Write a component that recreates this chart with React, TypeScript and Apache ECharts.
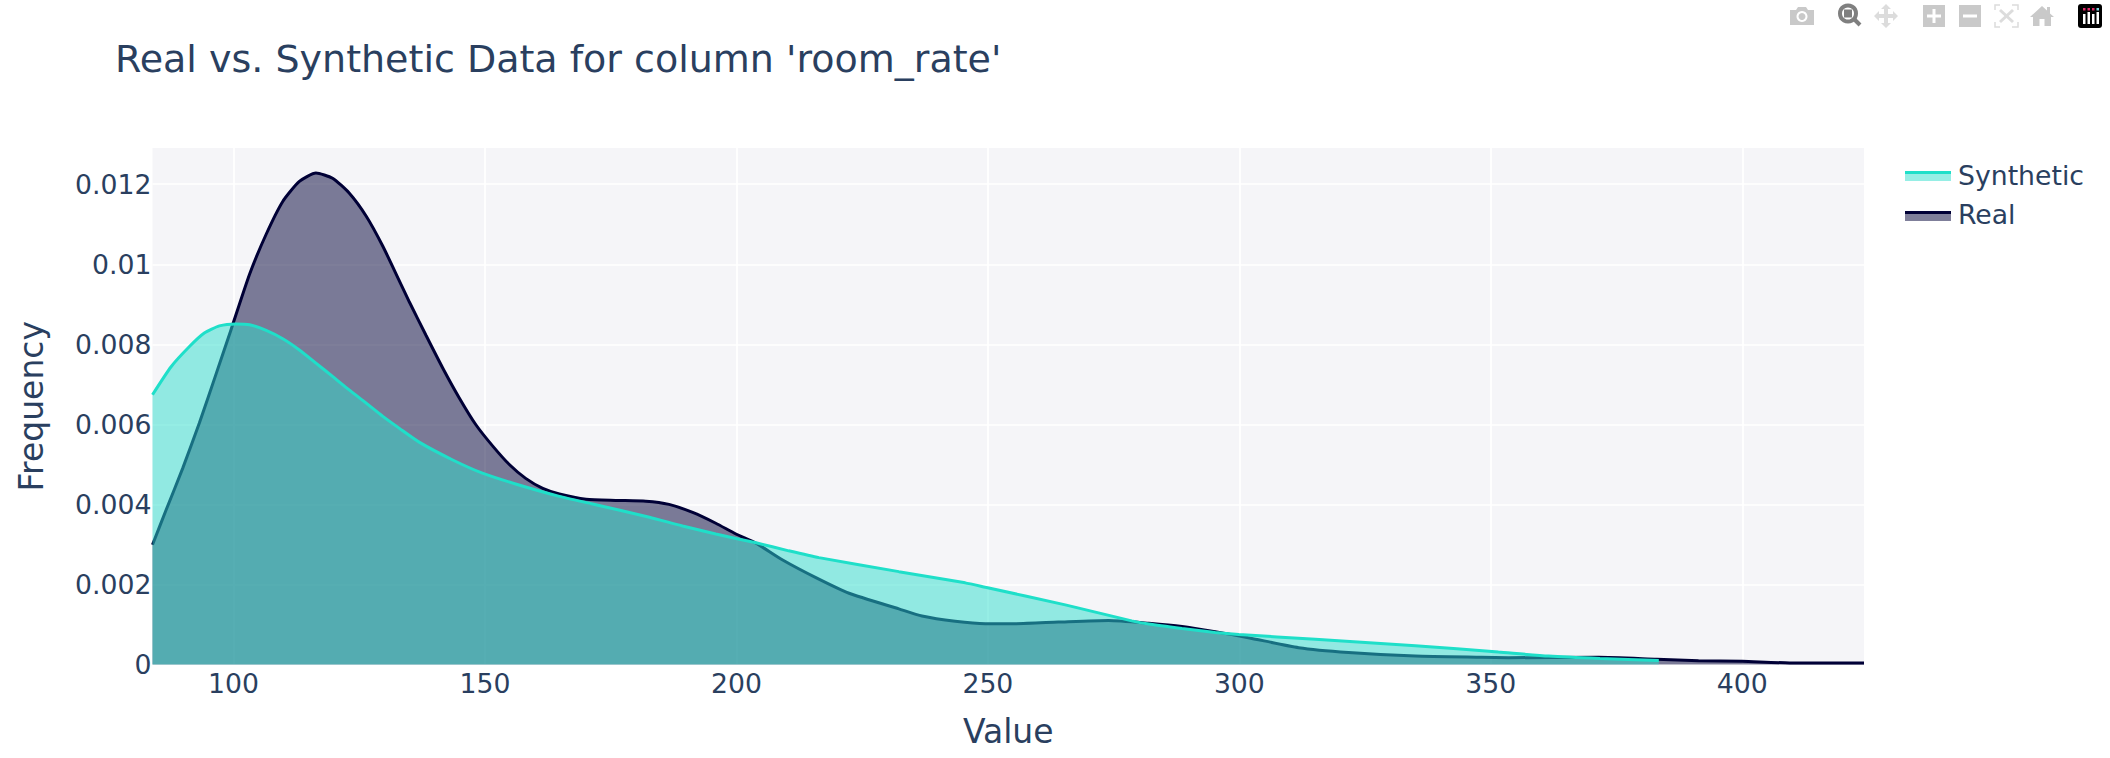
import { useEffect, useRef } from 'react'
import * as echarts from 'echarts'

const realValues = [83.9, 86.6, 89.9, 93.2, 96.6, 99.5, 103.2, 106.5, 109.8, 113.1, 116.4, 119.7, 123, 126.4, 129.7, 133, 135, 138.3, 141.6, 144.9, 148.2, 151.6, 154.9, 158.1, 161.5, 164.8, 170.1, 176, 182, 186.6, 191.3, 195.9, 199.9, 203.9, 209.2, 215.8, 222.4, 232.3, 236.9, 243.5, 249.5, 255.4, 264, 274, 282, 288.6, 295.2, 301.8, 311.8, 321.7, 335, 348.2, 353.5, 371.4, 383, 391.3, 400, 409.4, 424.2]
const realDensity = [0.00299, 0.00386, 0.0049, 0.00603, 0.00728, 0.00836, 0.00975, 0.01075, 0.01157, 0.01207, 0.01228, 0.01215, 0.01178, 0.0112, 0.01045, 0.00958, 0.00905, 0.00822, 0.00741, 0.00666, 0.00599, 0.00545, 0.00499, 0.00465, 0.0044, 0.00426, 0.00413, 0.0041, 0.00408, 0.004, 0.0038, 0.00353, 0.00326, 0.00303, 0.00261, 0.00217, 0.00178, 0.00139, 0.00121, 0.00108, 0.00102, 0.00102, 0.00106, 0.0011, 0.00103, 0.00095, 0.00082, 0.00067, 0.00042, 0.0003, 0.00021, 0.00018, 0.00017, 0.00018, 0.00013, 0.000095, 0.00008, 0.00004, 0.00004]

const synthValues = [83.9, 87.6, 91.3, 94.2, 97.2, 100.5, 103.2, 106.5, 109.8, 113.1, 116.4, 119.7, 123, 126.4, 129.7, 133, 137, 143.6, 149.5, 156.1, 164.8, 171.4, 182.7, 189.3, 195.9, 203.9, 210.4, 216.4, 232.3, 245.5, 249.5, 265.4, 278.6, 282, 288.6, 295.2, 299.9, 315.1, 335, 351.5, 361.5, 371.7, 383.4]
const synthDensity = [0.00674, 0.00744, 0.00795, 0.00828, 0.00846, 0.00851, 0.00849, 0.00835, 0.00814, 0.00786, 0.00753, 0.0072, 0.00686, 0.00653, 0.0062, 0.0059, 0.00555, 0.00511, 0.00478, 0.00451, 0.0042, 0.00401, 0.00368, 0.00346, 0.00326, 0.00304, 0.00284, 0.00267, 0.00232, 0.00204, 0.00193, 0.00149, 0.00109, 0.00101, 0.0009, 0.0008, 0.00075, 0.00063, 0.00047, 0.00031, 0.00021, 0.00015, 0.0001]

const xTicks = [100, 150, 200, 250, 300, 350, 400]
const yTicks = [0, 0.002, 0.004, 0.006, 0.008, 0.01, 0.012]

const TEXT = '#2a3f5f'
const FONT = '"DejaVu Sans", sans-serif'
const REAL = '#000036'
const REAL_FILL = 'rgba(0,0,54,0.5)'
const SYNTH = '#1fdfc9'
const SYNTH_FILL = 'rgba(45,221,204,0.5)'
const ICON = '#c9c9c9'
const ICON_LIGHT = '#dcdcdc'

// modebar icons, drawn in a 24px box
echarts.graphic.registerShape('cameraIcon', echarts.graphic.extendPath('M0 6H6L8 3H16L18 6H24V21H0Z', {}))
echarts.graphic.registerShape('panIcon', echarts.graphic.extendPath('M12 0L17 5H14V10H19V7L24 12L19 17V14H14V19H17L12 24L7 19H10V14H5V17L0 12L5 7V10H10V5H7Z', {}))
echarts.graphic.registerShape('homeIcon', echarts.graphic.extendPath('M12 2L17 6.5V3H20V9.5L24 13H21V22H14.5V15H9.5V22H3V13H0Z', {}))

const bracket = (points: number[][]) => ({
  type: 'polyline', shape: { points }, style: { fill: 'none', stroke: ICON_LIGHT, lineWidth: 1.5 },
})

const modebar = [
  { type: 'cameraIcon', x: 1790, y: 4, style: { fill: ICON } },
  { type: 'circle', shape: { cx: 1802, cy: 16.5, r: 5.5 }, style: { fill: '#fff' } },
  { type: 'circle', shape: { cx: 1802, cy: 16.5, r: 3.5 }, style: { fill: ICON } },
  { type: 'circle', shape: { cx: 1848, cy: 13.5, r: 8 }, style: { fill: 'none', stroke: '#7f7f7f', lineWidth: 4 } },
  { type: 'rect', shape: { x: 1844, y: 9.5, width: 8, height: 8 }, style: { fill: '#7f7f7f' } },
  { type: 'line', shape: { x1: 1854, y1: 19, x2: 1860, y2: 25 }, style: { stroke: '#7f7f7f', lineWidth: 4 } },
  { type: 'panIcon', x: 1874, y: 4, style: { fill: ICON_LIGHT } },
  { type: 'rect', shape: { x: 1923, y: 5, width: 22, height: 22 }, style: { fill: ICON } },
  { type: 'rect', shape: { x: 1927, y: 14.5, width: 14, height: 3 }, style: { fill: '#fff' } },
  { type: 'rect', shape: { x: 1932.5, y: 9, width: 3, height: 14 }, style: { fill: '#fff' } },
  { type: 'rect', shape: { x: 1959, y: 5, width: 22, height: 22 }, style: { fill: ICON } },
  { type: 'rect', shape: { x: 1963, y: 14.5, width: 14, height: 3 }, style: { fill: '#fff' } },
  bracket([[1995, 10], [1995, 5], [2000, 5]]),
  bracket([[2012, 5], [2018, 5], [2018, 10]]),
  bracket([[1995, 22], [1995, 27], [2000, 27]]),
  bracket([[2012, 27], [2018, 27], [2018, 22]]),
  { type: 'line', shape: { x1: 2000, y1: 10, x2: 2013, y2: 22 }, style: { stroke: ICON_LIGHT, lineWidth: 3 } },
  { type: 'line', shape: { x1: 2013, y1: 10, x2: 2000, y2: 22 }, style: { stroke: ICON_LIGHT, lineWidth: 3 } },
  { type: 'homeIcon', x: 2030, y: 4, style: { fill: ICON } },
  { type: 'rect', shape: { x: 2078, y: 4, width: 24, height: 24, r: 3 }, style: { fill: '#000' } },
  ...[2083, 2087.5, 2092, 2096.5].map((x, i) => ({
    type: 'rect', shape: { x, y: 8, width: 2.5, height: 2.5 }, style: { fill: i === 3 ? '#7fd6e0' : '#e0296b' },
  })),
  ...[[2083, 14], [2087.5, 12], [2092, 14], [2096.5, 12]].map(([x, y]) => ({
    type: 'rect', shape: { x, y, width: 2.5, height: 24 - y }, style: { fill: '#fff' },
  })),
]

export default function App() {
  const chartRef = useRef<HTMLDivElement>(null)

  useEffect(() => {
    if (!chartRef.current) return
    const chart = echarts.init(chartRef.current, undefined, { renderer: 'svg' })

    const option = {
      animation: false,
      backgroundColor: '#fff',
      title: {
        text: "Real vs. Synthetic Data for column 'room_rate'",
        left: 110,
        top: 35,
        textStyle: { color: TEXT, fontFamily: FONT, fontSize: 38, fontWeight: 'normal' },
      },
      legend: {
        data: ['Synthetic', 'Real'],
        orient: 'vertical',
        left: 1905,
        top: 157,
        itemWidth: 43,
        itemHeight: 10,
        itemGap: 12,
        icon: 'rect',
        itemStyle: { opacity: 0 },
        textStyle: { color: TEXT, fontFamily: FONT, fontSize: 26.7 },
      },
      grid: {
        left: 152.5,
        right: 246,
        top: 148,
        bottom: 93.5,
        show: true,
        backgroundColor: '#f5f5f8',
        borderWidth: 0,
        outerBoundsMode: 'none',
      },
      xAxis: {
        type: 'value',
        min: 83.9,
        max: 424.2,
        name: 'Value',
        nameLocation: 'middle',
        nameGap: 50,
        nameTextStyle: { color: TEXT, fontFamily: FONT, fontSize: 33 },
        axisLine: { show: true, lineStyle: { color: '#fff', width: 2 } },
        axisTick: { show: false, customValues: xTicks },
        axisLabel: { customValues: xTicks, color: TEXT, fontFamily: FONT, fontSize: 26.7, margin: 5.5 },
        splitLine: { show: true, lineStyle: { color: '#fff', width: 1.7 } },
      },
      yAxis: {
        type: 'value',
        min: 0,
        max: 0.012905,
        name: 'Frequency',
        nameLocation: 'middle',
        nameGap: 105,
        nameTextStyle: { color: TEXT, fontFamily: FONT, fontSize: 33 },
        axisLine: { show: false },
        axisTick: { show: false, customValues: yTicks },
        axisLabel: { customValues: yTicks, color: TEXT, fontFamily: FONT, fontSize: 26.7, margin: 1 },
        splitLine: { show: true, lineStyle: { color: '#fff', width: 1.7 } },
      },
      series: [
        {
          name: 'Real',
          type: 'line',
          z: 2,
          data: realValues.map((v, i) => [v, realDensity[i]]),
          smooth: 0.2,
          showSymbol: false,
          lineStyle: { color: REAL, width: 3 },
          itemStyle: { color: REAL_FILL },
          areaStyle: { color: REAL_FILL, opacity: 1 },
        },
        {
          name: 'Synthetic',
          type: 'line',
          z: 3,
          data: synthValues.map((v, i) => [v, synthDensity[i]]),
          smooth: 0.2,
          showSymbol: false,
          lineStyle: { color: SYNTH, width: 3 },
          itemStyle: { color: SYNTH_FILL },
          areaStyle: { color: SYNTH_FILL, opacity: 1 },
        },
      ],
      graphic: [
        // legend swatches, the legend itself only supplies the text
        { type: 'rect', shape: { x: 1905, y: 171, width: 46, height: 10 }, style: { fill: SYNTH_FILL } },
        { type: 'rect', shape: { x: 1905, y: 171, width: 46, height: 3 }, style: { fill: SYNTH } },
        { type: 'rect', shape: { x: 1905, y: 211, width: 46, height: 10 }, style: { fill: REAL_FILL } },
        { type: 'rect', shape: { x: 1905, y: 211, width: 46, height: 3 }, style: { fill: REAL } },
        ...modebar,
      ],
    }

    chart.setOption(option)
    return () => chart.dispose()
  }, [])

  return <div ref={chartRef} style={{ position: 'absolute', left: 0, top: 0, width: 2110, height: 758 }} />
}
